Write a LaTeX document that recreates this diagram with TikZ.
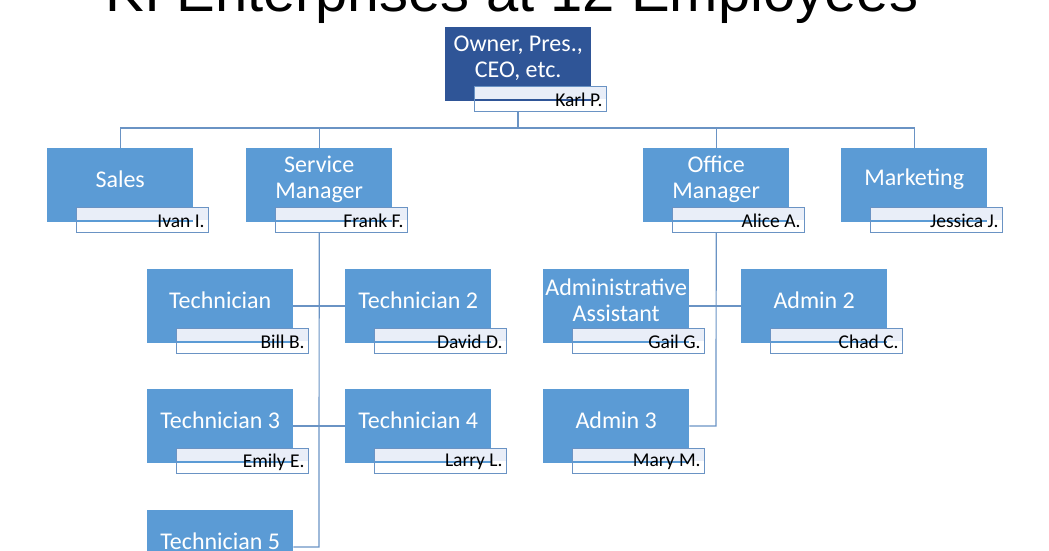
\documentclass[tikz,border=0pt]{standalone}
\usepackage{fontspec}
\setmainfont{Carlito}
\newfontfamily\titlefont{Liberation Sans}
\definecolor{boxc}{HTML}{5B9BD5}
\definecolor{topc}{HTML}{2F5597}
\definecolor{linec}{HTML}{6A93C4}
\definecolor{namec}{HTML}{E9EEF8}
\begin{document}
\begin{tikzpicture}[x=1pt,y=-1pt,
  role/.style={fill=boxc,draw=none,minimum width=146pt,minimum height=74pt,anchor=north west,inner sep=0pt},
  lbl/.style={text=white,font=\fontsize{24}{26}\selectfont,align=center,inner sep=0pt},
  namebox/.style={draw=linec,line width=0.8pt,minimum width=132pt,minimum height=25pt,anchor=north west,inner sep=0pt,path picture={\fill[namec] (path picture bounding box.north west) rectangle ([yshift=12.5pt]path picture bounding box.south east);}},
  nm/.style={font=\fontsize{19.5}{21}\selectfont,anchor=east,inner sep=0pt},
  con/.style={draw=linec,line width=1.2pt}]
\useasboundingbox (0,0) rectangle (1049,551);
\begin{scope}
\clip (0,0) rectangle (1049,551);
\node[font=\titlefont\fontsize{58}{60}\selectfont,anchor=base] (title) at (512,12) {KI Enterprises at 12 Employees};
\newcommand\rolebox[6]{%
  \node[role,#6] (#1) at (#2,#3) {};
  \node[lbl] (#1l) at ([yshift=6pt]#1.center) {#4};
  \node[namebox] (#1n) at (#2+29,#3+59) {};
  \node[nm] (#1t) at ([xshift=-4pt,yshift=-1pt]#1n.east) {#5};
}
\rolebox{own}{445}{27}{Owner, Pres.,\\CEO, etc.}{Karl P.}{fill=topc}
\rolebox{sal}{47}{148}{Sales}{Ivan I.}{}
\rolebox{svc}{246}{148}{Service\\Manager}{Frank F.}{}
\rolebox{off}{643}{148}{Office\\Manager}{Alice A.}{}
\rolebox{mkt}{841}{148}{Marketing}{Jessica J.}{}
\rolebox{t1}{147}{269}{Technician}{Bill B.}{}
\rolebox{t2}{345}{269}{Technician 2}{David D.}{}
\rolebox{aa}{543}{269}{Administrative\\Assistant}{Gail G.}{}
\rolebox{a2}{741}{269}{Admin 2}{Chad C.}{}
\rolebox{t3}{147}{389}{Technician 3}{Emily E.}{}
\rolebox{t4}{345}{389}{Technician 4}{Larry L.}{}
\rolebox{a3}{543}{389}{Admin 3}{Mary M.}{}
\rolebox{t5}{147}{510}{Technician 5}{}{}
\coordinate (h) at (518,128);
\coordinate (os) at (518,111);
\draw[con] (os) -- (h);
\draw[con] (sal.north) |- (h) -| (mkt.north);
\draw[con] (svc.north) |- (h) -| (off.north);
\coordinate (sbot) at (319,547);
\draw[con] (svcn.south -| svc.south) -- (sbot) -- (t5.east |- sbot);
\draw[con] (t1.east |- 0,306) -- (t2.west |- 0,306);
\draw[con] (t3.east |- 0,426) -- (t4.west |- 0,426);
\draw[con] (offn.south -| off.south) -- (716,426) -- (a3.east |- 0,426);
\draw[con] (aa.east |- 0,306) -- (a2.west |- 0,306);
\end{scope}
\end{tikzpicture}
\end{document}
